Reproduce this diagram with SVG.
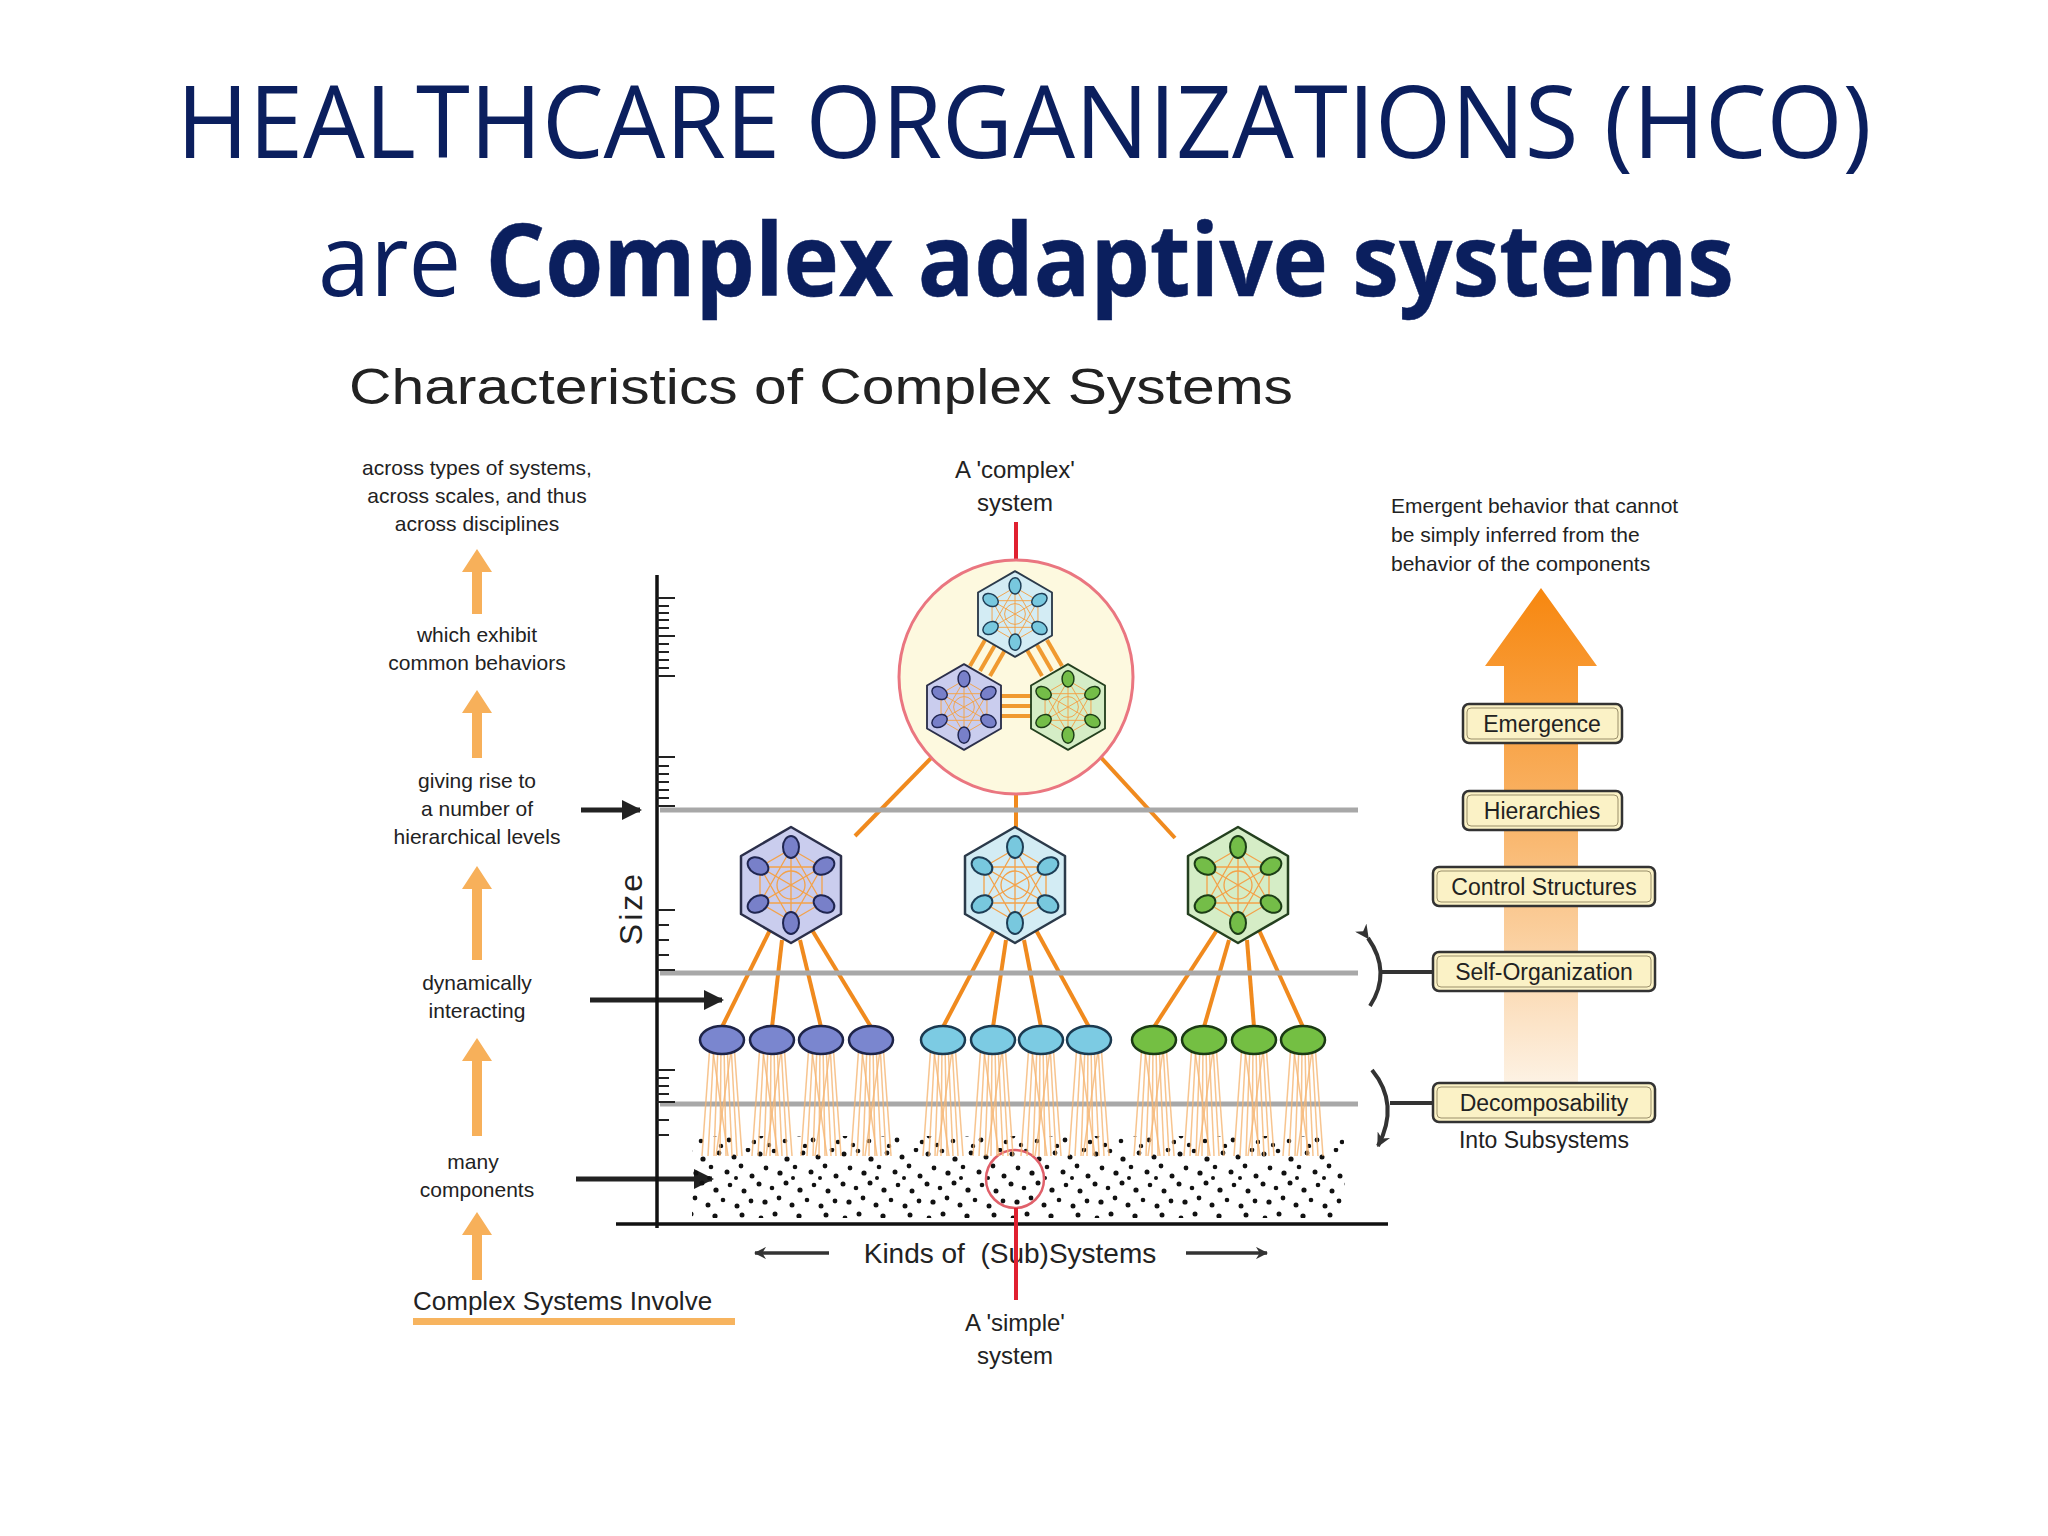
<svg xmlns="http://www.w3.org/2000/svg" width="2048" height="1536" viewBox="0 0 2048 1536">
<style>
.title{font-family:"Open Sans","Liberation Sans",sans-serif;fill:#0b1f5e}
.t{font-family:"Liberation Sans",Arial,sans-serif;fill:#222;text-anchor:middle}
.s{font-size:21px}
.box{fill:#fbf2c6;stroke:#333;stroke-width:2.5}
.boxi{fill:none;stroke:#9a8f6a;stroke-width:1}
.bl{font-family:"Liberation Sans",Arial,sans-serif;font-size:23px;fill:#222;text-anchor:middle}
.oa{fill:#f7b05a}
.ol{stroke:#f08a1e;stroke-width:4;fill:none}
.gl{stroke:#a8a8a8;stroke-width:5}
.ax{stroke:#111;stroke-width:3.5;fill:none}
.tk{stroke:#222;stroke-width:2}
.fan line{stroke:#f6b673;stroke-width:1.5;opacity:.8}
.mesh{stroke:#f3a24a;stroke-width:1.3;fill:none}
</style>
<defs>
<linearGradient id="ga" x1="0" y1="0" x2="0" y2="1">
<stop offset="0" stop-color="#f7870f"/><stop offset="0.5" stop-color="#f9b870"/><stop offset="1" stop-color="#fdf3e6"/>
</linearGradient>
<marker id="blk" viewBox="0 0 10 10" refX="9" refY="5" markerWidth="4" markerHeight="4" orient="auto"><path d="M0,0L10,5L0,10z" fill="#222"/></marker>
<marker id="blk2" viewBox="0 0 10 10" refX="9" refY="5" markerWidth="3.5" markerHeight="3.5" orient="auto"><path d="M0,0L10,5L0,10L3,5z" fill="#333"/></marker>
<pattern id="dots" width="84" height="82" patternUnits="userSpaceOnUse">
<g fill="#111">
<circle cx="4" cy="6" r="2.5"/><circle cx="18" cy="3" r="2.3"/><circle cx="31" cy="11" r="2.6"/><circle cx="47" cy="5" r="2.4"/><circle cx="62" cy="9" r="2.5"/><circle cx="76" cy="2" r="2.3"/>
<circle cx="10" cy="20" r="2.4"/><circle cx="24" cy="25" r="2.6"/><circle cx="39" cy="19" r="2.3"/><circle cx="55" cy="24" r="2.5"/><circle cx="69" cy="18" r="2.4"/><circle cx="80" cy="28" r="2.5"/>
<circle cx="3" cy="36" r="2.5"/><circle cx="16" cy="40" r="2.3"/><circle cx="30" cy="35" r="2.5"/><circle cx="44" cy="42" r="2.6"/><circle cx="58" cy="37" r="2.3"/><circle cx="72" cy="43" r="2.5"/>
<circle cx="9" cy="54" r="2.6"/><circle cx="23" cy="50" r="2.4"/><circle cx="36" cy="57" r="2.5"/><circle cx="51" cy="52" r="2.3"/><circle cx="65" cy="58" r="2.5"/><circle cx="79" cy="53" r="2.4"/>
<circle cx="5" cy="70" r="2.4"/><circle cx="19" cy="66" r="2.5"/><circle cx="29" cy="75" r="2.3"/><circle cx="43" cy="68" r="2.6"/><circle cx="57" cy="74" r="2.4"/><circle cx="70" cy="67" r="2.5"/><circle cx="82" cy="76" r="2.3"/>
<circle cx="13" cy="79" r="2.2"/><circle cx="49" cy="80" r="2.2"/><circle cx="37" cy="30" r="2"/><circle cx="64" cy="30" r="2"/>
</g>
</pattern>
<g id="fan" class="fan">
<line x1="-12" y1="0" x2="-20" y2="112"/><line x1="-8" y1="0" x2="-14" y2="112"/><line x1="-4" y1="0" x2="-8" y2="112"/><line x1="-1" y1="0" x2="-2" y2="112"/><line x1="2" y1="0" x2="4" y2="112"/><line x1="5" y1="0" x2="10" y2="112"/><line x1="9" y1="0" x2="15" y2="112"/><line x1="12" y1="0" x2="20" y2="112"/><line x1="-10" y1="0" x2="6" y2="112"/><line x1="10" y1="0" x2="-6" y2="112"/>
</g>
<g id="mesh" class="mesh">
<path d="M0,-36L31,-18L31,18L0,36L-31,18L-31,-18Z"/>
<path d="M0,-36L31,18L-31,18Z M0,36L31,-18L-31,-18Z"/>
<path d="M0,-36L0,36 M31,-18L-31,18 M31,18L-31,-18"/>
<circle r="14"/>
</g>
<g id="hexB">
<path d="M0,-58L50,-29L50,29L0,58L-50,29L-50,-29Z" fill="#cacdee" stroke="#2b2f4a" stroke-width="2.5" stroke-linejoin="round"/>
<use href="#mesh"/>
<g fill="#7880c9" stroke="#1f2550" stroke-width="2">
<ellipse cx="0" cy="-38" rx="8" ry="11"/><ellipse cx="0" cy="38" rx="8" ry="11"/>
<ellipse cx="33" cy="-19" rx="8" ry="11" transform="rotate(60 33 -19)"/><ellipse cx="-33" cy="19" rx="8" ry="11" transform="rotate(60 -33 19)"/>
<ellipse cx="33" cy="19" rx="8" ry="11" transform="rotate(-60 33 19)"/><ellipse cx="-33" cy="-19" rx="8" ry="11" transform="rotate(-60 -33 -19)"/>
</g></g>
<g id="hexC">
<path d="M0,-58L50,-29L50,29L0,58L-50,29L-50,-29Z" fill="#d3ecf4" stroke="#2b3a4a" stroke-width="2.5" stroke-linejoin="round"/>
<use href="#mesh"/>
<g fill="#78c8de" stroke="#1d3d55" stroke-width="2">
<ellipse cx="0" cy="-38" rx="8" ry="11"/><ellipse cx="0" cy="38" rx="8" ry="11"/>
<ellipse cx="33" cy="-19" rx="8" ry="11" transform="rotate(60 33 -19)"/><ellipse cx="-33" cy="19" rx="8" ry="11" transform="rotate(60 -33 19)"/>
<ellipse cx="33" cy="19" rx="8" ry="11" transform="rotate(-60 33 19)"/><ellipse cx="-33" cy="-19" rx="8" ry="11" transform="rotate(-60 -33 -19)"/>
</g></g>
<g id="hexG">
<path d="M0,-58L50,-29L50,29L0,58L-50,29L-50,-29Z" fill="#d5edc6" stroke="#24401f" stroke-width="2.5" stroke-linejoin="round"/>
<use href="#mesh"/>
<g fill="#74bd48" stroke="#1c3d16" stroke-width="2">
<ellipse cx="0" cy="-38" rx="8" ry="11"/><ellipse cx="0" cy="38" rx="8" ry="11"/>
<ellipse cx="33" cy="-19" rx="8" ry="11" transform="rotate(60 33 -19)"/><ellipse cx="-33" cy="19" rx="8" ry="11" transform="rotate(60 -33 19)"/>
<ellipse cx="33" cy="19" rx="8" ry="11" transform="rotate(-60 33 19)"/><ellipse cx="-33" cy="-19" rx="8" ry="11" transform="rotate(-60 -33 -19)"/>
</g></g>
</defs>
<rect width="2048" height="1536" fill="#fff"/>

<g id="title">
<text class="title" x="1024" y="158" font-size="100" text-anchor="middle" textLength="1695" lengthAdjust="spacingAndGlyphs">HEALTHCARE ORGANIZATIONS (HCO)</text>
<text class="title" x="318" y="296" font-size="100" textLength="1416" lengthAdjust="spacingAndGlyphs">are <tspan font-weight="bold" style="filter:none" fill="#0b1f5e" stroke="#0b1f5e" stroke-width="0.5">Complex adaptive systems</tspan></text>
<text font-family="Liberation Sans,Arial,sans-serif" x="349" y="404" font-size="50" fill="#222" textLength="944" lengthAdjust="spacingAndGlyphs">Characteristics of Complex Systems</text>
</g>

<g id="left-column">
<text class="t s" x="477" y="475">across types of systems,</text>
<text class="t s" x="477" y="503">across scales, and thus</text>
<text class="t s" x="477" y="531">across disciplines</text>
<text class="t s" x="477" y="642">which exhibit</text>
<text class="t s" x="477" y="670">common behaviors</text>
<text class="t s" x="477" y="788">giving rise to</text>
<text class="t s" x="477" y="816">a number of</text>
<text class="t s" x="477" y="844">hierarchical levels</text>
<text class="t s" x="477" y="990">dynamically</text>
<text class="t s" x="477" y="1018">interacting</text>
<text class="t s" x="473" y="1169">many</text>
<text class="t s" x="477" y="1197">components</text>
<text font-family="Liberation Sans,Arial,sans-serif" font-size="26" fill="#222" x="413" y="1310">Complex Systems Involve</text>
<rect x="413" y="1318" width="322" height="7" fill="#f7b45f"/>
<g class="oa">
<path d="M472,614V572H462L477,549L492,572H482V614Z"/>
<path d="M472,758V713H462L477,690L492,713H482V758Z"/>
<path d="M472,960V889H462L477,866L492,889H482V960Z"/>
<path d="M472,1136V1061H462L477,1038L492,1061H482V1136Z"/>
<path d="M472,1280V1235H462L477,1212L492,1235H482V1280Z"/>
</g>
</g>

<g id="connectors">
<line x1="581" y1="810" x2="640" y2="810" stroke="#222" stroke-width="5" marker-end="url(#blk)"/>
<line x1="590" y1="1000" x2="722" y2="1000" stroke="#222" stroke-width="5" marker-end="url(#blk)"/>
<line x1="576" y1="1179" x2="712" y2="1179" stroke="#222" stroke-width="5" marker-end="url(#blk)"/>
<line x1="829" y1="1253" x2="755" y2="1253" stroke="#333" stroke-width="3.5" marker-end="url(#blk2)"/>
<line x1="1186" y1="1253" x2="1267" y2="1253" stroke="#333" stroke-width="3.5" marker-end="url(#blk2)"/>
<line class="ol" x1="938" y1="751" x2="855" y2="836"/>
<line class="ol" x1="1016" y1="794" x2="1016" y2="827"/>
<line class="ol" x1="1095" y1="751" x2="1175" y2="838"/>
<g class="ol" stroke-width="3.5">
<line x1="770" y1="930" x2="722" y2="1027"/><line x1="782" y1="940" x2="772" y2="1027"/><line x1="800" y1="940" x2="821" y2="1027"/><line x1="812" y1="930" x2="871" y2="1027"/>
<line x1="994" y1="930" x2="943" y2="1027"/><line x1="1006" y1="940" x2="993" y2="1027"/><line x1="1024" y1="940" x2="1041" y2="1027"/><line x1="1036" y1="930" x2="1089" y2="1027"/>
<line x1="1217" y1="930" x2="1154" y2="1027"/><line x1="1229" y1="940" x2="1204" y2="1027"/><line x1="1247" y1="940" x2="1254" y2="1027"/><line x1="1259" y1="930" x2="1303" y2="1027"/>
</g>
</g>

<g id="axes">
<line class="gl" x1="660" y1="810" x2="1358" y2="810"/>
<line class="gl" x1="660" y1="973" x2="1358" y2="973"/>
<line class="gl" x1="660" y1="1104" x2="1358" y2="1104"/>
<line class="ax" x1="657" y1="575" x2="657" y2="1228"/>
<line class="ax" x1="616" y1="1224" x2="1388" y2="1224"/>
<g class="tk">
<path d="M657,598h18M657,606h12M657,613h12M657,620h12M657,628h12M657,636h18M657,644h12M657,652h12M657,660h12M657,668h12M657,676h18"/>
<path d="M657,757h18M657,766h12M657,774h12M657,782h12M657,790h12M657,798h12M657,806h18"/>
<path d="M657,910h18M657,925h12M657,940h12M657,955h12M657,970h18"/>
<path d="M657,1070h18M657,1078h12M657,1086h12M657,1094h12M657,1102h18M657,1120h12M657,1135h12"/>
</g>
<text font-family="Liberation Sans,Arial,sans-serif" font-size="32" fill="#222" transform="translate(642,908) rotate(-90)" text-anchor="middle" letter-spacing="3">Size</text>
<text font-family="Liberation Sans,Arial,sans-serif" font-size="28" fill="#222" x="1010" y="1263" text-anchor="middle" xml:space="preserve">Kinds of  (Sub)Systems</text>
</g>

<g id="components">
<rect x="692" y="1136" width="653" height="82" fill="url(#dots)"/>
<circle cx="1015" cy="1179" r="29" fill="none" stroke="#e0606a" stroke-width="2.5"/>
<line x1="1016" y1="1208" x2="1016" y2="1300" stroke="#e02030" stroke-width="4"/>
<g>
<use href="#fan" x="722" y="1044"/><use href="#fan" x="772" y="1044"/><use href="#fan" x="821" y="1044"/><use href="#fan" x="871" y="1044"/>
<use href="#fan" x="943" y="1044"/><use href="#fan" x="993" y="1044"/><use href="#fan" x="1041" y="1044"/><use href="#fan" x="1089" y="1044"/>
<use href="#fan" x="1154" y="1044"/><use href="#fan" x="1204" y="1044"/><use href="#fan" x="1254" y="1044"/><use href="#fan" x="1303" y="1044"/>
</g>
</g>

<g id="level1" stroke-width="2.5">
<g fill="#7a86cf" stroke="#1e2448">
<ellipse cx="722" cy="1040" rx="22" ry="14"/><ellipse cx="772" cy="1040" rx="22" ry="14"/><ellipse cx="821" cy="1040" rx="22" ry="14"/><ellipse cx="871" cy="1040" rx="22" ry="14"/>
</g>
<g fill="#7ccbe3" stroke="#1b3a50">
<ellipse cx="943" cy="1040" rx="22" ry="14"/><ellipse cx="993" cy="1040" rx="22" ry="14"/><ellipse cx="1041" cy="1040" rx="22" ry="14"/><ellipse cx="1089" cy="1040" rx="22" ry="14"/>
</g>
<g fill="#74bf43" stroke="#1b3a14">
<ellipse cx="1154" cy="1040" rx="22" ry="14"/><ellipse cx="1204" cy="1040" rx="22" ry="14"/><ellipse cx="1254" cy="1040" rx="22" ry="14"/><ellipse cx="1303" cy="1040" rx="22" ry="14"/>
</g>
</g>

<g id="level2">
<use href="#hexB" x="791" y="885"/>
<use href="#hexC" x="1015" y="885"/>
<use href="#hexG" x="1238" y="885"/>
</g>

<g id="complex-system">
<line x1="1016" y1="522" x2="1016" y2="560" stroke="#e02030" stroke-width="4"/>
<circle cx="1016" cy="677" r="117" fill="#fdf9df" stroke="#ea7680" stroke-width="3"/>
<g stroke="#f09a30" stroke-width="4">
<line x1="985" y1="640" x2="970" y2="666"/><line x1="995" y1="645" x2="980" y2="671"/><line x1="1005" y1="650" x2="990" y2="676"/>
<line x1="1027" y1="650" x2="1042" y2="676"/><line x1="1037" y1="645" x2="1052" y2="671"/><line x1="1047" y1="640" x2="1062" y2="666"/>
<line x1="1000" y1="696" x2="1032" y2="696"/><line x1="1000" y1="706" x2="1032" y2="706"/><line x1="1000" y1="716" x2="1032" y2="716"/>
</g>
<use href="#hexC" transform="translate(1015,614) scale(0.74)"/>
<use href="#hexB" transform="translate(964,707) scale(0.74)"/>
<use href="#hexG" transform="translate(1068,707) scale(0.74)"/>
<text class="t" font-size="24" x="1015" y="478">A 'complex'</text>
<text class="t" font-size="24" x="1015" y="511">system</text>
<text class="t" font-size="24" x="1015" y="1331">A 'simple'</text>
<text class="t" font-size="24" x="1015" y="1364">system</text>
</g>

<g id="right-column">
<text font-family="Liberation Sans,Arial,sans-serif" font-size="21" fill="#222" x="1391" y="513">Emergent behavior that cannot</text>
<text font-family="Liberation Sans,Arial,sans-serif" font-size="21" fill="#222" x="1391" y="542">be simply inferred from the</text>
<text font-family="Liberation Sans,Arial,sans-serif" font-size="21" fill="#222" x="1391" y="571">behavior of the components</text>
<path d="M1541,588L1597,666H1578V1088H1504V666H1485Z" fill="url(#ga)"/>
<g id="n-emergence"><rect class="box" x="1463" y="704" width="159" height="39" rx="6"/><rect class="boxi" x="1467" y="708" width="151" height="31" rx="4"/><text class="bl" x="1542" y="732">Emergence</text></g>
<g id="n-hierarchies"><rect class="box" x="1463" y="791" width="159" height="39" rx="6"/><rect class="boxi" x="1467" y="795" width="151" height="31" rx="4"/><text class="bl" x="1542" y="819">Hierarchies</text></g>
<g id="n-control"><rect class="box" x="1433" y="867" width="222" height="39" rx="6"/><rect class="boxi" x="1437" y="871" width="214" height="31" rx="4"/><text class="bl" x="1544" y="895">Control Structures</text></g>
<g id="n-selforg"><rect class="box" x="1433" y="952" width="222" height="39" rx="6"/><rect class="boxi" x="1437" y="956" width="214" height="31" rx="4"/><text class="bl" x="1544" y="980">Self-Organization</text></g>
<g id="n-decomp"><rect class="box" x="1433" y="1083" width="222" height="39" rx="6"/><rect class="boxi" x="1437" y="1087" width="214" height="31" rx="4"/><text class="bl" x="1544" y="1111">Decomposability</text><text class="bl" font-size="21" x="1544" y="1148">Into Subsystems</text></g>
<g fill="none" stroke="#333" stroke-width="4">
<path d="M1368,938Q1392,972 1370,1006" marker-start="url(#blk2)"/>
<line x1="1382" y1="972" x2="1433" y2="972"/>
<path d="M1372,1070Q1400,1104 1378,1146" marker-end="url(#blk2)"/>
<line x1="1390" y1="1103" x2="1433" y2="1103"/>
</g>
</g>
</svg>
